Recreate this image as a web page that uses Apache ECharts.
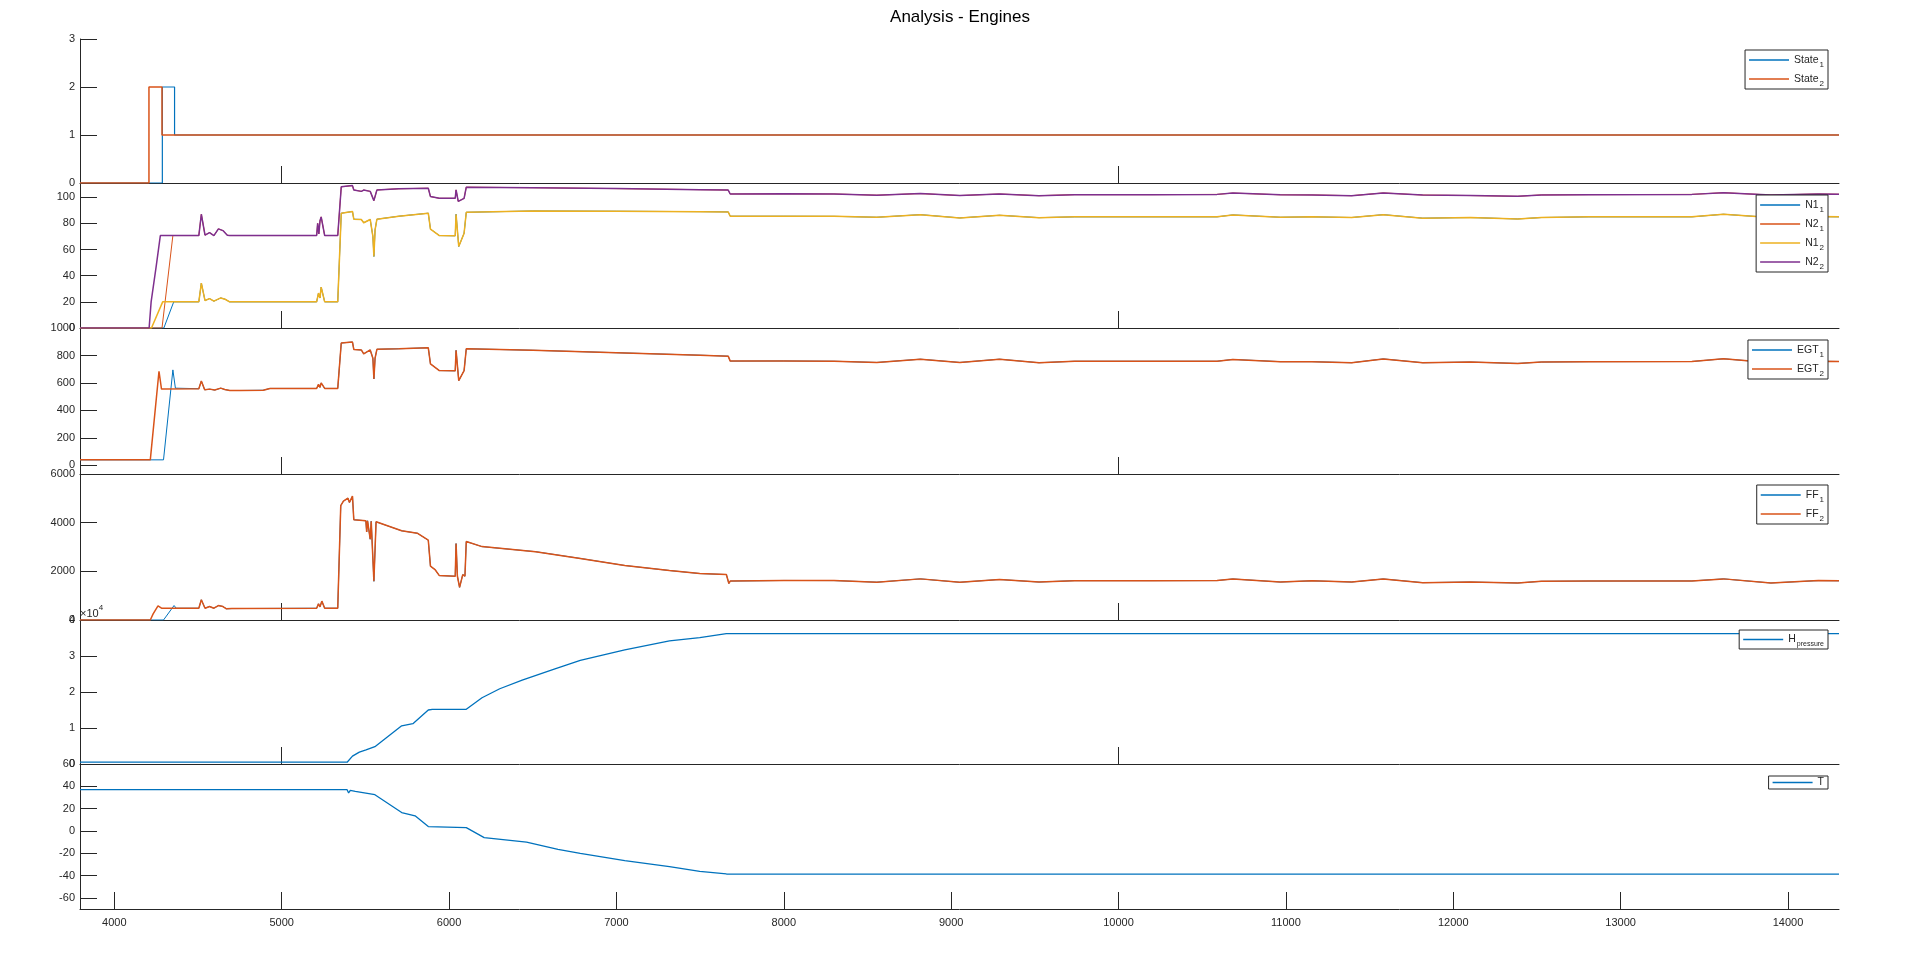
<!DOCTYPE html>
<html>
<head>
<meta charset="utf-8">
<title>Analysis - Engines</title>
<script src="https://cdn.jsdelivr.net/npm/echarts@6.0.0/dist/echarts.min.js"></script>
<style>
html,body{margin:0;padding:0;background:#fff;}
#chart{width:1920px;height:963px;}
</style>
</head>
<body>
<div id="chart"></div>
<script>
// ---------------- data ----------------
const X_MIN = 3795, X_MAX = 14305;
const xTicksUpper = [5000, 10000];
const xTicksBottom = [4000, 5000, 6000, 7000, 8000, 9000, 10000, 11000, 12000, 13000, 14000];

// State
const state1T = [3795, 4287, 4287, 4360, 4360, 14305];
const state1V = [0, 0, 2, 2, 1, 1];
const state2T = [3795, 4207, 4207, 4285, 4285, 14305];
const state2V = [0, 0, 2, 2, 1, 1];

// cruise segment times (shared sampling instants)
const cruiseT = [7680, 8000, 8300, 8556, 8816, 9052, 9289, 9525, 9738, 10200, 10589, 10683, 10967, 11156, 11393, 11582, 11818, 12102, 12385, 12527, 12811, 13426, 13615, 13898, 14182, 14305];
const n2Cruise = [102.5, 102.6, 102.5, 101.6, 102.8, 101.3, 102.5, 101.2, 102.0, 102.0, 102.2, 103.2, 101.9, 101.8, 101.2, 103.3, 101.7, 101.3, 100.7, 101.8, 102.0, 102.2, 103.5, 101.7, 102.5, 102.3];
const n1Cruise = [85.5, 85.5, 85.4, 84.7, 86.7, 84.2, 86.2, 84.4, 85.0, 85.0, 85.0, 86.5, 84.7, 85.0, 84.5, 86.7, 84.0, 84.5, 83.4, 84.5, 85.0, 85.0, 87.0, 84.5, 85.2, 85.0];
const egtCruise = [759, 760, 758, 749, 773, 749, 773, 747, 758, 758, 758, 771, 755, 755, 747, 775, 747, 752, 742, 752, 755, 756, 776, 747, 758, 756];
const ffCruise = [1600, 1625, 1620, 1555, 1690, 1550, 1665, 1560, 1618, 1618, 1620, 1687, 1560, 1610, 1560, 1687, 1535, 1560, 1521, 1590, 1600, 1605, 1690, 1521, 1620, 1610];

// N2
const n2Start1T = [3795, 4285, 4350];
const n2Start1V = [0, 0, 70.7];
const n2Start2T = [3795, 4208, 4220, 4250, 4275];
const n2Start2V = [0, 0, 20, 47, 70.7];
const n2MainT = [4505, 4520, 4542, 4569, 4595, 4622, 4649, 4675, 4689, 5209, 5215, 5222, 5229, 5236, 5257, 5335, 5356, 5423, 5431, 5476, 5490, 5529, 5551, 5569, 5700, 5876, 5889, 5942, 6037, 6042, 6055, 6090, 6103, 6500, 7000, 7500, 7668];
const n2MainV = [70.7, 87, 71, 73, 70.7, 75.8, 74.5, 71, 70.7, 70.7, 80, 72, 82, 85, 70.7, 70.7, 108, 108.9, 105.6, 104.5, 105.5, 104.5, 97.4, 105.6, 106.5, 106.9, 100.5, 99.2, 99.2, 105.6, 96.8, 99.2, 107.7, 107.3, 106.6, 105.8, 105.5];

// N1
const n1Start1T = [3795, 4296, 4355];
const n1Start1V = [0, 0, 20];
const n1Start2T = [3795, 4222, 4289];
const n1Start2V = [0, 0, 20];
const n1MainT = [4505, 4520, 4542, 4569, 4595, 4636, 4662, 4689, 5209, 5220, 5229, 5236, 5257, 5335, 5356, 5423, 5431, 5476, 5490, 5529, 5545, 5551, 5558, 5569, 5700, 5876, 5889, 5942, 6037, 6042, 6058, 6090, 6103, 6500, 7000, 7500, 7668];
const n1MainV = [20, 34.3, 21, 22.5, 20.5, 23, 22, 20, 20, 26.7, 23, 31.3, 20, 20, 87.8, 89.1, 83.2, 83, 80.5, 83, 70, 54.7, 75, 83.2, 85.5, 87.8, 75.7, 70.7, 70.5, 87, 62.3, 72.5, 88.5, 89.5, 89.3, 89.0, 88.8];

// EGT
const egtStart1T = [3795, 4294, 4350, 4365];
const egtStart1V = [40, 40, 695, 562];
const egtStart2T = [3795, 4215, 4267, 4282];
const egtStart2V = [40, 40, 685, 555];
const egtMainT = [4505, 4520, 4540, 4570, 4600, 4636, 4660, 4690, 4750, 4890, 4930, 5209, 5220, 5229, 5236, 5257, 5335, 5356, 5423, 5431, 5476, 5490, 5529, 5545, 5551, 5558, 5569, 5700, 5876, 5889, 5942, 6037, 6042, 6058, 6090, 6103, 6500, 7000, 7500, 7668];
const egtMainV = [558, 614, 550, 555, 548, 562, 552, 545, 545, 547, 560, 560, 590, 568, 600, 560, 560, 891, 898, 844, 840, 812, 840, 780, 629, 780, 845, 849, 856, 739, 690, 688, 837, 617, 690, 849, 838, 820, 802, 795];

// FF
const ffStart1T = [3795, 4294, 4357, 4370];
const ffStart1V = [0, 0, 595, 484];
const ffStart2T = [3795, 4215, 4232, 4261, 4282];
const ffStart2V = [0, 0, 250, 580, 484];
const ffMainT = [4505, 4520, 4542, 4569, 4595, 4622, 4649, 4670, 4702, 5209, 5220, 5229, 5240, 5257, 5335, 5353, 5369, 5396, 5405, 5423, 5431, 5503, 5508, 5513, 5524, 5529, 5535, 5545, 5551, 5564, 5717, 5810, 5876, 5889, 5916, 5942, 6037, 6042, 6050, 6063, 6082, 6095, 6103, 6197, 6517, 6784, 7050, 7317, 7498, 7657, 7672];
const ffMainV = [484, 830, 484, 554, 484, 595, 554, 461, 470, 484, 664, 540, 775, 484, 484, 4701, 4884, 5008, 4830, 5090, 4120, 4078, 3622, 4078, 4050, 3320, 4060, 4040, 1590, 4037, 3665, 3568, 3278, 2212, 2074, 1826, 1798, 3140, 1798, 1341, 1867, 1798, 3224, 3016, 2808, 2531, 2240, 2033, 1909, 1867, 1500];

// H_pressure
const hT = [3795, 5391, 5423, 5464, 5504, 5557, 5717, 5784, 5876, 5900, 6103, 6197, 6303, 6437, 6624, 6784, 7050, 7317, 7498, 7657, 14305];
const hV = [500, 500, 2200, 3300, 3900, 4800, 10600, 11200, 15000, 15200, 15200, 18400, 20900, 23300, 26300, 28800, 31700, 34200, 35100, 36200, 36200];

// T
const tempT = [3795, 5391, 5400, 5410, 5440, 5557, 5717, 5797, 5876, 6103, 6210, 6463, 6651, 6784, 7050, 7317, 7498, 7657, 14305];
const tempV = [37, 37, 34, 36.3, 35.5, 32.5, 16.5, 13.5, 3.9, 3, -6, -10, -16.6, -20.2, -26.6, -32, -36.2, -38.6, -38.8];

// y tick labels per panel
const yTicks = [
  [0, 1, 2, 3],
  [0, 20, 40, 60, 80, 100],
  [0, 200, 400, 600, 800, 1000],
  [0, 2000, 4000, 6000],
  [0, 10000, 20000, 30000, 40000],
  [-60, -40, -20, 0, 20, 40, 60]
];
const yRanges = [[0, 3], [0, 110.9], [-63, 1000], [0, 6000], [0, 40000], [-70, 60]];

// ---------------- layout / style ----------------
const C_BLUE = '#0072BD', C_ORANGE = '#D95319', C_YELLOW = '#EDB120', C_PURPLE = '#7E2F8E';
const AXIS_C = '#262626';
const FONT = 'Liberation Sans, Arial, Helvetica, sans-serif';
const gridTops = [39, 183, 328, 474, 620, 764];
const gridHeights = [144, 145, 146, 146, 144, 145];
const legendTops = [50, 195, 340, 485, 630, 776];

function zip(t, v) { return t.map((x, i) => [x, v[i]]); }
function join() { let out = []; for (const a of arguments) out = out.concat(a); return out; }

const grids = [], xAxes = [], yAxes = [];
for (let i = 0; i < 6; i++) {
  grids.push({ left: 80, width: 1759, top: gridTops[i], height: gridHeights[i], containLabel: false });
  const bottom = i === 5;
  xAxes.push({
    type: 'value', gridIndex: i, min: X_MIN, max: X_MAX,
    axisLine: { show: true, onZero: false, lineStyle: { color: AXIS_C, width: 1 } },
    axisTick: { show: true, inside: true, length: 17, customValues: bottom ? xTicksBottom : xTicksUpper, lineStyle: { color: AXIS_C, width: 1 } },
    axisLabel: { show: bottom, customValues: xTicksBottom, color: AXIS_C, fontSize: 11, fontFamily: FONT, margin: 8, formatter: v => String(v) },
    splitLine: { show: false }
  });
  yAxes.push({
    type: 'value', gridIndex: i, min: yRanges[i][0], max: yRanges[i][1],
    axisLine: { show: true, onZero: false, lineStyle: { color: AXIS_C, width: 1 } },
    axisTick: { show: true, inside: true, length: 17, customValues: yTicks[i], lineStyle: { color: AXIS_C, width: 1 } },
    axisLabel: {
      show: true, customValues: yTicks[i], color: AXIS_C, fontSize: 11, fontFamily: FONT, margin: 5,
      formatter: i === 4 ? (v => String(v / 10000)) : (v => String(v))
    },
    splitLine: { show: false }
  });
}

function line(name, data, color, idx, w) {
  return {
    name: name, type: 'line', xAxisIndex: idx, yAxisIndex: idx, data: data,
    showSymbol: false, symbol: 'none', lineStyle: { color: color, width: w || 1 }, itemStyle: { color: color },
    animation: false, silent: true
  };
}

const series = [
  line('State_1', zip(state1T, state1V), C_BLUE, 0, 1.2),
  line('State_2', zip(state2T, state2V), C_ORANGE, 0, 1.5),
  line('N1_1', join(zip(n1Start1T, n1Start1V), zip(n1MainT, n1MainV), zip(cruiseT, n1Cruise)), C_BLUE, 1, 1),
  line('N2_1', join(zip(n2Start1T, n2Start1V), zip(n2MainT, n2MainV), zip(cruiseT, n2Cruise)), C_ORANGE, 1, 1),
  line('N1_2', join(zip(n1Start2T, n1Start2V), zip(n1MainT, n1MainV), zip(cruiseT, n1Cruise)), C_YELLOW, 1, 1.5),
  line('N2_2', join(zip(n2Start2T, n2Start2V), zip(n2MainT, n2MainV), zip(cruiseT, n2Cruise)), C_PURPLE, 1, 1.5),
  line('EGT_1', join(zip(egtStart1T, egtStart1V), zip(egtMainT, egtMainV), zip(cruiseT, egtCruise)), C_BLUE, 2, 1),
  line('EGT_2', join(zip(egtStart2T, egtStart2V), zip(egtMainT, egtMainV), zip(cruiseT, egtCruise)), C_ORANGE, 2, 1.5),
  line('FF_1', join(zip(ffStart1T, ffStart1V), zip(ffMainT, ffMainV), zip(cruiseT, ffCruise)), C_BLUE, 3, 1),
  line('FF_2', join(zip(ffStart2T, ffStart2V), zip(ffMainT, ffMainV), zip(cruiseT, ffCruise)), C_ORANGE, 3, 1.5),
  line('H_pressure', zip(hT, hV), C_BLUE, 4, 1.3),
  line('T', zip(tempT, tempV), C_BLUE, 5, 1.3)
];

const legendGroups = [
  ['State_1', 'State_2'],
  ['N1_1', 'N2_1', 'N1_2', 'N2_2'],
  ['EGT_1', 'EGT_2'],
  ['FF_1', 'FF_2'],
  ['H_pressure'],
  ['T']
];

function legendFormatter(name) {
  const k = name.indexOf('_');
  if (k < 0) return '{m|' + name + '}';
  const main = name.slice(0, k), sub = name.slice(k + 1);
  return '{m|' + main + '}{' + (sub.length > 2 ? 'p' : 's') + '|' + sub + '}';
}

const legends = legendGroups.map((g, i) => ({
  data: g, orient: 'vertical', right: 92, top: legendTops[i],
  itemWidth: 40, itemHeight: 1.5, icon: 'rect', itemGap: 1,
  padding: [1, 4, 1, 4],
  backgroundColor: '#fff', borderColor: AXIS_C, borderWidth: 1,
  selectedMode: false,
  formatter: legendFormatter,
  textStyle: {
    color: AXIS_C, fontFamily: FONT, fontSize: 10,
    rich: {
      m: { fontSize: 10.5, lineHeight: 18, verticalAlign: 'middle', color: AXIS_C, fontFamily: FONT },
      s: { fontSize: 8, lineHeight: 8, verticalAlign: 'middle', color: AXIS_C, fontFamily: FONT, padding: [10, 0, 0, 1] },
      p: { fontSize: 7, lineHeight: 7, verticalAlign: 'middle', color: AXIS_C, fontFamily: FONT, padding: [10, 0, 0, 1] }
    }
  }
}));

const option = {
  animation: false,
  backgroundColor: '#fff',
  title: {
    text: 'Analysis - Engines', left: 'center', top: 9, padding: 0,
    textStyle: { fontSize: 17, fontWeight: 'normal', color: '#000', fontFamily: FONT }
  },
  grid: grids, xAxis: xAxes, yAxis: yAxes,
  legend: legends,
  series: series,
  graphic: [{
    type: 'text', left: 80, top: 604, silent: true,
    style: {
      text: '{a|×10}{b|4}',
      rich: {
        a: { fontSize: 11, fill: AXIS_C, fontFamily: FONT, padding: [6, 0, 0, 0] },
        b: { fontSize: 8, fill: AXIS_C, fontFamily: FONT, padding: [0, 0, 6, 0] }
      }
    }
  }]
};

const chart = echarts.init(document.getElementById('chart'), null, { renderer: 'canvas' });
chart.setOption(option);
</script>
</body>
</html>
